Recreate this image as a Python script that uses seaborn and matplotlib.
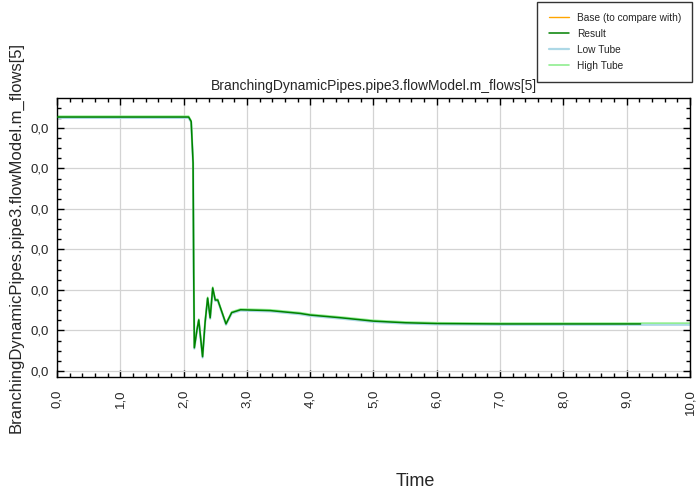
import math

import matplotlib
matplotlib.use("Agg")
import matplotlib.pyplot as plt
import pandas as pd
import seaborn as sns
from matplotlib.ticker import FuncFormatter, MultipleLocator, AutoMinorLocator

# simulation output
time = [0.0, 2.08, 2.12, 2.15, 2.16, 2.17, 2.21, 2.24, 2.27, 2.30, 2.34,
        2.38, 2.42, 2.46, 2.50, 2.54, 2.67, 2.76, 2.90, 3.37, 3.84, 4.0,
        4.5, 5.0, 5.5, 6.0, 7.0, 8.0, 9.22]
result = [0.0627, 0.0627, 0.0616, 0.0514, 0.0242, 0.0057, 0.0100, 0.0126,
          0.0080, 0.0035, 0.0120, 0.0180, 0.0131, 0.0205, 0.0175, 0.0175,
          0.0116, 0.0144, 0.0151, 0.0149, 0.0142, 0.0138, 0.0131, 0.0123,
          0.0119, 0.0117, 0.0116, 0.0116, 0.0116]

tube_time = [0.0, 2.08, 2.12, 2.15, 2.16, 2.17, 2.21, 2.24, 2.27, 2.30,
             2.34, 2.38, 2.42, 2.46, 2.50, 2.54, 2.67, 2.76, 2.90, 3.37,
             3.84, 4.0, 4.5, 5.0, 5.5, 6.0, 7.0, 8.0, 9.22, 10.0]
low_tube = [0.0625, 0.0625, 0.0614, 0.0512, 0.0240, 0.0055, 0.0098, 0.0124,
            0.0078, 0.0033, 0.0118, 0.0178, 0.0129, 0.0203, 0.0173, 0.0173,
            0.0114, 0.0142, 0.0149, 0.0147, 0.0140, 0.0136, 0.0129, 0.0121,
            0.0117, 0.0115, 0.0114, 0.0114, 0.0114, 0.0114]
high_tube = [0.0629, 0.0629, 0.0618, 0.0516, 0.0244, 0.0059, 0.0102, 0.0128,
             0.0082, 0.0037, 0.0122, 0.0182, 0.0133, 0.0207, 0.0177, 0.0177,
             0.0118, 0.0146, 0.0153, 0.0151, 0.0144, 0.0140, 0.0133, 0.0125,
             0.0121, 0.0119, 0.0118, 0.0118, 0.0118, 0.0118]

res = pd.DataFrame({"time": time, "value": result})
low = pd.DataFrame({"time": tube_time, "value": low_tube})
high = pd.DataFrame({"time": tube_time, "value": high_tube})

sns.set_style("ticks")
plt.rcParams["font.family"] = ["Liberation Sans", "DejaVu Sans"]

fig = plt.figure(figsize=(7, 5), dpi=100)
ax = fig.add_axes([0.0814, 0.246, 0.9043, 0.558])

# base series has no data in the reference, only a legend entry
ax.plot([], [], color="orange", lw=1, label="Base (to compare with)")
sns.lineplot(data=low, x="time", y="value", ax=ax, color="lightblue",
             lw=1.6, label="Low Tube", estimator=None, zorder=2)
sns.lineplot(data=high, x="time", y="value", ax=ax, color="lightgreen",
             lw=1.2, label="High Tube", estimator=None, zorder=2)
sns.lineplot(data=res, x="time", y="value", ax=ax, color="green",
             lw=1.1, label="Result", estimator=None, zorder=3)

ax.set_xlim(0, 10)
ax.set_ylim(-0.0015, 0.0674)
ax.xaxis.set_major_locator(MultipleLocator(1))
ax.xaxis.set_minor_locator(AutoMinorLocator(5))
ax.yaxis.set_major_locator(MultipleLocator(0.01))
ax.yaxis.set_minor_locator(AutoMinorLocator(4))


def comma_fmt(v, pos):
    # one decimal, truncated, with a decimal comma
    v = math.floor(v * 10 + 1e-9) / 10 if v >= 0 else v
    return f"{v:.1f}".replace(".", ",")


ax.xaxis.set_major_formatter(FuncFormatter(lambda v, p: f"{v:.1f}".replace(".", ",")))
ax.yaxis.set_major_formatter(FuncFormatter(comma_fmt))
ax.tick_params(which="both", direction="in", top=True, right=True,
               color="black", width=1)
ax.tick_params(which="major", length=5, labelsize=9.5)
ax.tick_params(which="minor", length=3)
ax.tick_params(axis="x", labelrotation=90, pad=9)
ax.tick_params(axis="y", pad=6)
ax.grid(True, which="major", color="#d3d3d3", lw=0.9)
for s in ax.spines.values():
    s.set_color("black")
    s.set_linewidth(1)

ax.set_title("BranchingDynamicPipes.pipe3.flowModel.m_flows[5]",
             fontsize=10, pad=6)
ax.set_xlabel("Time", fontsize=13)
ax.xaxis.set_label_coords(0.566, -0.345)
ax.set_ylabel("BranchingDynamicPipes.pipe3.flowModel.m_flows[5]",
              fontsize=12, labelpad=5)

ax.get_legend().remove()
handles, labels = ax.get_legend_handles_labels()
order = ["Base (to compare with)", "Result", "Low Tube", "High Tube"]
hmap = dict(zip(labels, handles))
leg = fig.legend([hmap[k] for k in order], order, loc="upper right",
                 bbox_to_anchor=(0.989, 0.997), fontsize=7.3,
                 frameon=True, fancybox=False, edgecolor="black",
                 handlelength=2.0, handletextpad=0.8, borderpad=1.1,
                 labelspacing=0.6, borderaxespad=0)
leg.get_frame().set_linewidth(1)

fig.savefig("out.png", dpi=100)
